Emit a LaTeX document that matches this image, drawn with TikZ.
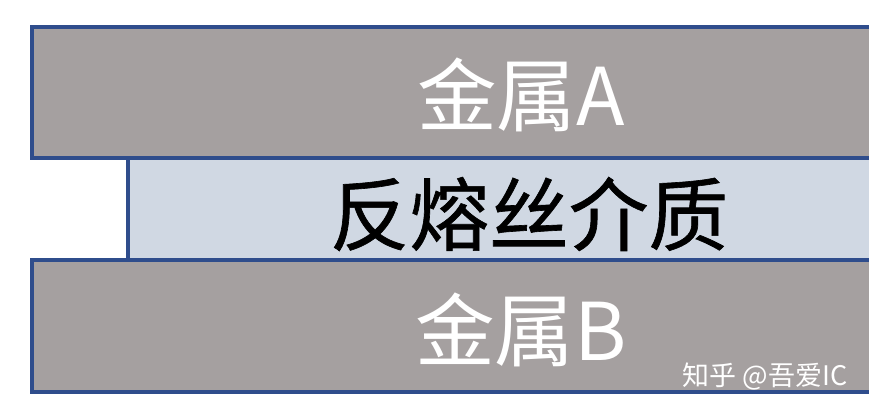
\documentclass[tikz,border=0pt]{standalone}
\usepackage{fontspec}
\setmainfont{Noto Sans CJK SC}
\newfontfamily\heavycjk[FakeBold = 0.8]{Noto Sans CJK SC}
\usepackage{tikz}
\definecolor{edge}{RGB}{47, 77, 140}
\definecolor{metal}{RGB}{165, 160, 160}
\definecolor{oxide}{RGB}{208, 216, 227}
\tikzset{layer/.style = {draw = edge, line width = 2.6pt}}
\tikzset{big/.style = {font = \fontsize{68}{70}\selectfont, inner sep = 0}}

\begin{document}
\begin{tikzpicture}[x = 0.03cm, y = -0.03cm]
    \clip (0, 0) rectangle (869, 412);
    \fill [white] (0, 0) rectangle (869, 412);

    \draw [layer, fill = oxide] (128, 158) rectangle (900, 260);
    \draw [layer, fill = metal] (32, 27) rectangle (900, 158);
    \draw [layer, fill = metal] (32, 260) rectangle (900, 392);

    \node [big, white] (metalA) at (521, 95) {金属A};
    \node [big, black] (fuse) at (529, 214) {\heavycjk 反熔丝介质};
    \node [big, white] (metalB) at (521, 330) {金属B};

    \node [white, font = \fontsize{23}{25}\selectfont, inner sep = 0] (mark) at (765, 376) {知乎 @吾爱IC};
  \end{tikzpicture}
\end{document}
